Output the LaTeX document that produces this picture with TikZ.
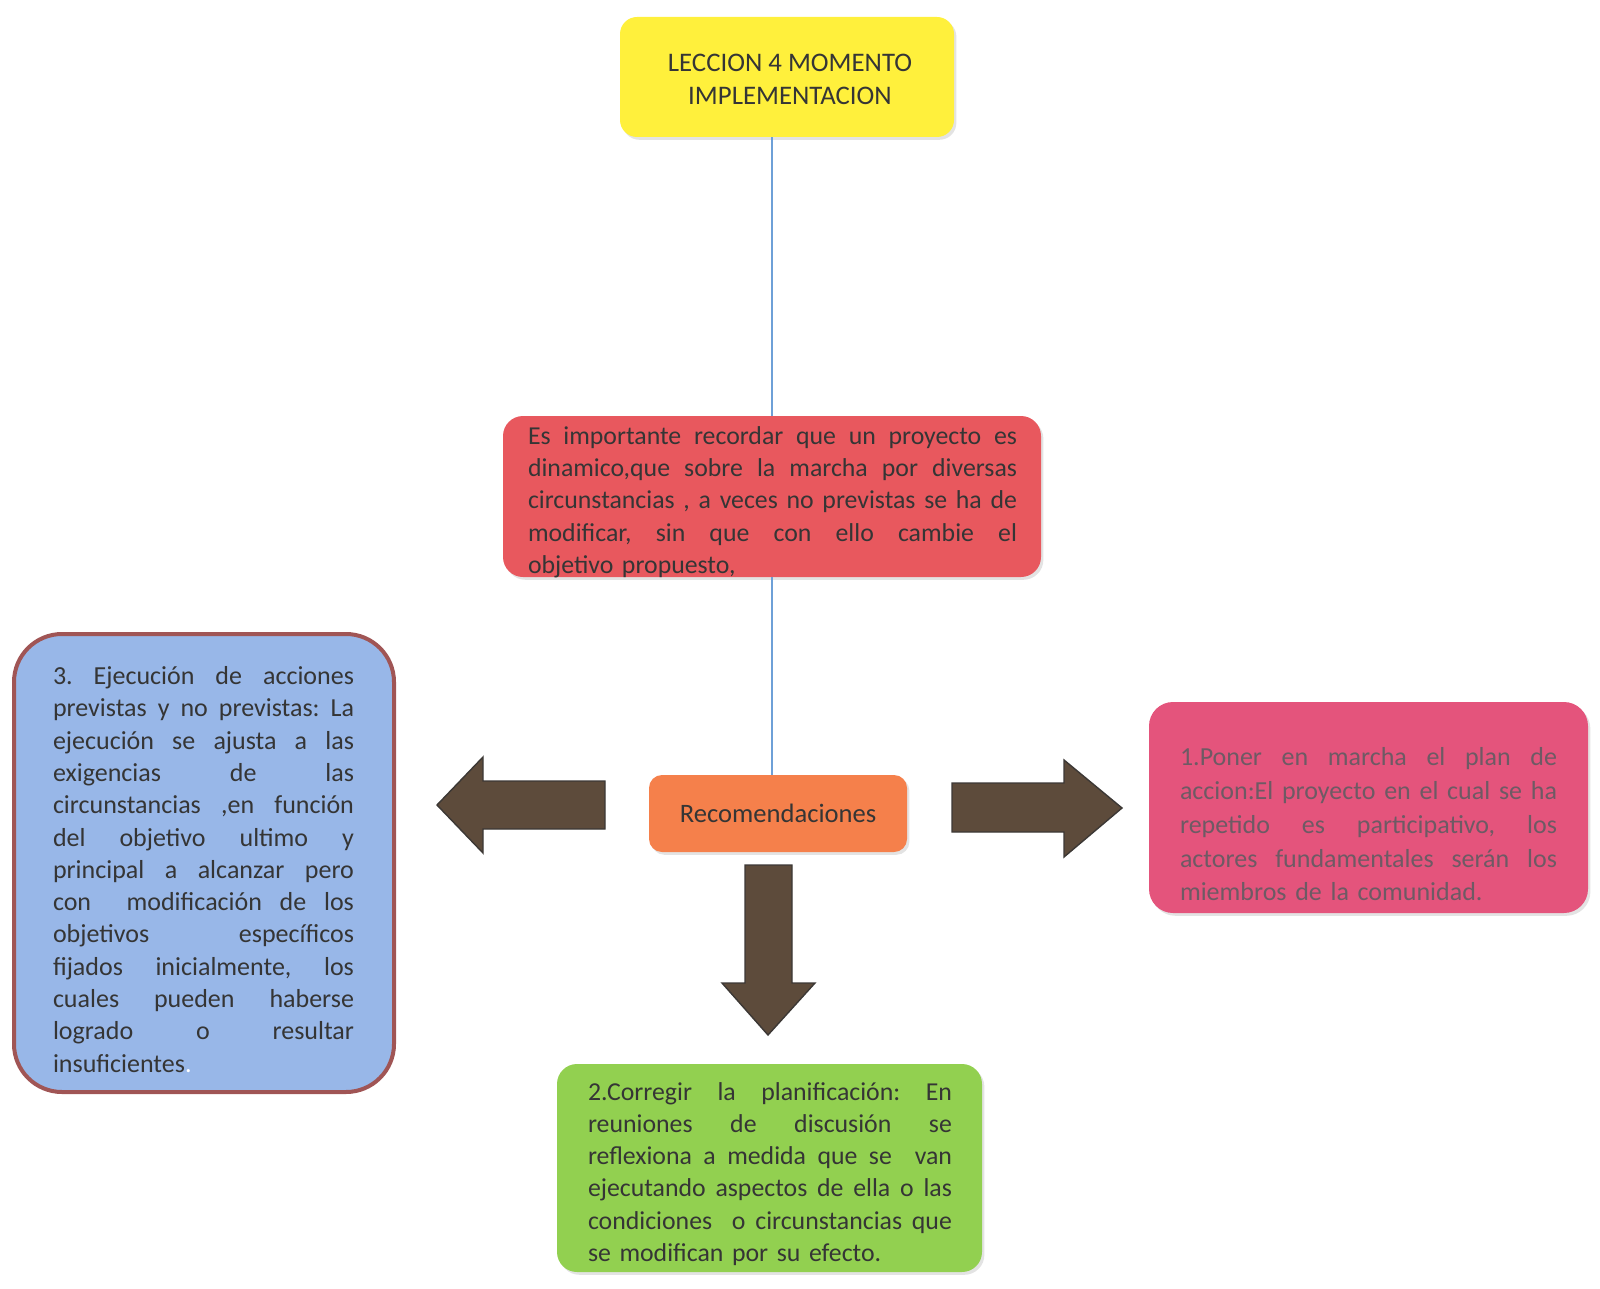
\documentclass[tikz,border=0pt]{standalone}
\usepackage{fontspec}
\setmainfont{Carlito}
\usetikzlibrary{shadows}
\definecolor{cyel}{HTML}{FFF03C}
\definecolor{cred}{HTML}{E8585E}
\definecolor{cora}{HTML}{F5804B}
\definecolor{cblue}{HTML}{98B7E8}
\definecolor{cblueb}{HTML}{A05555}
\definecolor{cgreen}{HTML}{92D050}
\definecolor{cpink}{HTML}{E4547C}
\definecolor{ctext}{HTML}{353535}
\definecolor{cpinkt}{HTML}{6E5A64}
\definecolor{cline}{HTML}{6EA0D7}
\definecolor{carrow}{HTML}{5D4B3B}
\definecolor{carrowd}{HTML}{3C3835}
\newcommand\jline[1]{\par\noindent\hbox to\hsize{\strut\frenchspacing\spaceskip=.226em plus 1fil minus .07em\relax #1}\par}
\newcommand\lline[1]{\par\noindent\hbox{\strut\frenchspacing #1}\par}
\begin{document}
\begin{tikzpicture}[x=0.5pt,y=-0.5pt,
  box/.style={rounded corners=#1, inner sep=0pt, draw=none},
  box/.default=10pt,
  shadowy/.style={drop shadow={opacity=0.22, shadow xshift=1.2pt, shadow yshift=-1.4pt}},
  txt/.style={inner sep=0pt, text=ctext},
  conn/.style={draw=cline, line width=0.8pt},
  blockarrow/.style={fill=carrow, draw=carrowd, line width=0.7pt, line join=miter}
]
\path[use as bounding box] (0,0) rectangle (1600,1289);

% boxes
\node[box=8.5pt, fill=cyel, minimum width=167pt, minimum height=60pt, shadowy] (yel) at (787,77) {};
\node[box=10pt, fill=cred, minimum width=269pt, minimum height=80.5pt, shadowy] (red) at (772,496.5) {};
\node[box=6.5pt, fill=cora, minimum width=129pt, minimum height=38.5pt, shadowy] (ora) at (778,813.5) {};
\node[box=24pt, fill=cblue, draw=cblueb, line width=2pt, minimum width=190pt, minimum height=229pt] (blue) at (204,863) {};
\node[box=10pt, fill=cgreen, minimum width=212.5pt, minimum height=104pt, shadowy] (green) at (769.5,1168) {};
\node[box=12pt, fill=cpink, minimum width=219.5pt, minimum height=105.5pt, shadowy] (pink) at (1368.5,807.5) {};

% connectors
\draw[conn] (red.north) -- (red.north |- yel.south);
\draw[conn] (red.south) -- (red.south |- ora.north);

% block arrows
\path[blockarrow] (437,805) -- (483,757) -- (483,781) -- (605,781) -- (605,829) -- (483,829) -- (483,853) -- cycle;
\path[blockarrow] (952,783) -- (1064,783) -- (1064,760) -- (1122,808) -- (1064,857) -- (1064,832) -- (952,832) -- cycle;
\path[blockarrow] (745,865) -- (792,865) -- (792,983) -- (815,983) -- (768,1035) -- (722,983) -- (745,983) -- cycle;

% texts
\node[txt, align=center, font=\fontsize{13.4}{16.5}\selectfont] (yelt) at (790,79) {LECCION 4 MOMENTO\\IMPLEMENTACION};

\node[txt, text width=244.5pt, font=\fontsize{12.9}{16.15}\selectfont] (redt) at (772.5,497.5) {%
\jline{Es importante recordar que un proyecto es}%
\jline{dinamico,que sobre la marcha por diversas}%
\jline{circunstancias , a veces no previstas se ha de}%
\jline{modificar, sin que con ello cambie el}%
\lline{objetivo propuesto,}};

\node[txt, font=\fontsize{13.3}{16}\selectfont] (orat) at (778,813) {Recomendaciones};

\node[txt, text width=150.5pt, font=\fontsize{13.0}{16.15}\selectfont] (bluet) at (203.5,867) {%
\jline{3. Ejecución de acciones}%
\jline{previstas y no previstas: La}%
\jline{ejecución se ajusta a las}%
\jline{exigencias de las}%
\jline{circunstancias ,en función}%
\jline{del objetivo ultimo y}%
\jline{principal a alcanzar pero}%
\jline{con\ \ modificación de los}%
\jline{objetivos específicos}%
\jline{fijados inicialmente, los}%
\jline{cuales pueden haberse}%
\jline{logrado o resultar}%
\lline{insuficientes\textcolor{white}{.}}};

\node[txt, text width=182pt, font=\fontsize{12.9}{16.1}\selectfont] (greent) at (770,1169.5) {%
\jline{2.Corregir la planificación: En}%
\jline{reuniones de discusión se}%
\jline{reflexiona a medida que se\ \ van}%
\jline{ejecutando aspectos de ella o las}%
\jline{condiciones\ \ o circunstancias que}%
\lline{se modifican por su efecto.}};

\node[txt, text=cpinkt, text width=188.5pt, font=\fontsize{13.0}{16.85}\selectfont] (pinkt) at (1368.5,821.5) {%
\jline{1.Poner en marcha el plan de}%
\jline{accion:El proyecto en el cual se ha}%
\jline{repetido es participativo, los}%
\jline{actores fundamentales serán los}%
\lline{miembros de la comunidad.}};
\end{tikzpicture}
\end{document}
